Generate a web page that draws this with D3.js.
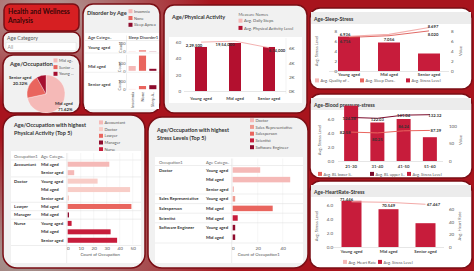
<!DOCTYPE html>
<html>
<head>
<meta charset="utf-8">
<script src="https://cdnjs.cloudflare.com/ajax/libs/d3/7.8.5/d3.min.js"></script>
<style>
body { margin: 0; background: #a3141c; }
svg { display: block; font-family: Lato, "Open Sans", sans-serif; }
</style>
</head>
<body>
<svg id="dash" width="474" height="271"></svg>
<script>
// ---- data ----
var ageGroups = ["Young aged", "Mid aged", "Senior aged"];

var pieNames = ["Mid aged", "Senior aged", "Young aged"];
var pieLegend = ["Mid ag..", "Senior ...", "Young ..."];
var piePct = [71.62, 20.32, 8.06];

var disorderCats = ["Insomnia", "None", "Sleep Apnea"];
var disorderTicks = ["Insomnia", "None", "Sleep A.."];
var disorderYoung = [3, 14, 2];
var disorderMid = [60, 190, 25];
var disorderSenior = [3, 40, 50];

var physActivity = [53.9, 58.8, 53.9];
var dailySteps = [6900, 7040, 6110];
var stepLabels = ["2,29,500", "19,54,000", "6,14,000"];

var physOcc = ["Accountant", "Accountant", "Doctor", "Doctor", "Doctor", "Lawyer", "Manager", "Nurse", "Nurse", "Nurse"];
var physAge = ["Mid aged", "Senior aged", "Young aged", "Mid aged", "Senior aged", "Mid aged", "Mid aged", "Young aged", "Mid aged", "Senior aged"];
var physCount = [32, 5, 23, 48, 1, 49, 1, 3, 33, 38];
var physOccList = ["Accountant", "Doctor", "Lawyer", "Manager", "Nurse"];

var stressOcc = ["Doctor", "Doctor", "Doctor", "Sales Representative", "Salesperson", "Scientist", "Software Engineer", "Software Engineer"];
var stressAge = ["Young aged", "Mid aged", "Senior aged", "Young aged", "Mid aged", "Mid aged", "Young aged", "Mid aged"];
var stressCount = [22, 46, 1, 2, 32, 4, 2, 2];
var stressOccList = ["Doctor", "Sales Representative", "Salesperson", "Scientist", "Software Engineer"];

var sleepStress = [6.9, 5.7, 3.5];
var sleepQuality = [6.936, 7.32, 8.697];
var sleepDuration = [6.716, 7.056, 8.020];

var bpGroups = ["21-30", "31-40", "41-50", "51-60"];
var bpStress = [7.9, 5.5, 6.0, 3.4];
var bpLower = [82.58, 80.25, 86.24, 87.39];
var bpUpper = [124.38, 122.03, 131.04, 132.32];

var hrStress = [6.6, 5.4, 3.4];
var heartRate = [71.446, 70.549, 67.467];

// ---- colours ----
var lightPink = "#f5b9b7", paler = "#f8cdc7", salmon = "#e9655e", rose = "#ee998f",
    crimson = "#c71c3b", darkRed = "#8e0b2d", barRed = "#b3102f";

var svg = d3.select("#dash");
var W = 474, H = 271;

// background: red with a greyish patch
var defs = svg.append("defs");
var g1 = defs.append("radialGradient").attr("id", "grayA").attr("cx", 0.05).attr("cy", 0.95).attr("r", 0.45);
g1.append("stop").attr("offset", 0).attr("stop-color", "#a49c96");
g1.append("stop").attr("offset", 1).attr("stop-color", "#a49c96").attr("stop-opacity", 0);
var g2 = defs.append("radialGradient").attr("id", "grayB").attr("cx", 0.1).attr("cy", 0.05).attr("r", 0.35);
g2.append("stop").attr("offset", 0).attr("stop-color", "#b0a4a0");
g2.append("stop").attr("offset", 1).attr("stop-color", "#b0a4a0").attr("stop-opacity", 0);
svg.append("rect").attr("width", W).attr("height", H).attr("fill", "#a8141d");
svg.append("rect").attr("width", W).attr("height", H).attr("fill", "url(#grayA)");
svg.append("rect").attr("width", W).attr("height", H).attr("fill", "url(#grayB)");

function panel(x, y, w, h, fill, r) {
  svg.append("rect").attr("x", x).attr("y", y).attr("width", w).attr("height", h)
    .attr("rx", r || 10).attr("fill", fill || "#f1f1f1")
    .attr("stroke", "#7a0e15").attr("stroke-width", 1.5);
}

function txt(x, y, s, size, opt) {
  opt = opt || {};
  var t = svg.append("text").attr("x", x).attr("y", y).text(s)
    .attr("font-size", size).attr("fill", opt.fill || "#444")
    .attr("font-weight", opt.weight || "normal")
    .attr("text-anchor", opt.anchor || "start");
  if (opt.rotate) t.attr("transform", "rotate(-90," + x + "," + y + ")");
  return t;
}

function legend(names, colors, xs, ys, size) {
  names.forEach(function(n, i) {
    svg.append("rect").attr("x", xs[i]).attr("y", ys[i] - 3.6).attr("width", 4).attr("height", 4).attr("fill", colors[i]);
    txt(xs[i] + 5.5, ys[i], n, size || 4.2, { fill: "#555" });
  });
}

function cleanAxis(g) {
  g.select(".domain").remove();
  g.selectAll("line").remove();
  g.selectAll("text").attr("font-size", 4.5).attr("fill", "#555").attr("font-family", "Lato, sans-serif");
}

// ---- title + filter ----
panel(4, 4, 75, 27, "#d61f22", 6);
txt(8, 14, "Health and Wellness", 6.8, { weight: "bold", fill: "#3a0708" });
txt(8, 23, "Analysis", 6.8, { weight: "bold", fill: "#3a0708" });

panel(3, 32, 77, 21, "#f3f3f3", 7);
txt(7, 40, "Age Category", 5.2, { fill: "#555" });
svg.append("rect").attr("x", 6).attr("y", 42.5).attr("width", 70).attr("height", 8).attr("fill", "#fff").attr("stroke", "#ddd").attr("stroke-width", 0.4);
txt(7.5, 49, "All", 5, { fill: "#999" });

// ---- pie ----
panel(3, 55, 77, 58);
txt(10, 66, "Age/Occupation", 5.8, { weight: "bold", fill: "#333" });
var pieColors = [lightPink, salmon, "#a50e2e"];
legend(pieLegend, pieColors, [53.5, 53.5, 53.5], [62, 68.7, 75.4], 4);
var pie = d3.pie().sort(null).value(function(d) { return d; });
var arc = d3.arc().innerRadius(0).outerRadius(19);
svg.append("g").attr("transform", "translate(46,94)")
  .selectAll("path").data(pie(piePct)).enter().append("path")
  .attr("d", arc).attr("fill", function(d, i) { return pieColors[i]; })
  .attr("stroke", "#fff").attr("stroke-width", 0.3);
txt(9, 79, pieNames[1], 4.3, { weight: "bold", fill: "#333" });
txt(13, 85, piePct[1].toFixed(2) + "%", 4.3, { weight: "bold", fill: "#333" });
txt(55, 105, pieNames[0], 4.3, { weight: "bold", fill: "#333" });
txt(58, 111, piePct[0].toFixed(2) + "%", 4.3, { weight: "bold", fill: "#333" });

// ---- disorder by age ----
panel(83, 4, 77, 109);
txt(87, 15, "Disorder by Age", 5.6, { weight: "bold", fill: "#333" });
legend(["Insomnia", "None", "Sleep Apnea"], [lightPink, salmon, darkRed], [128.5, 128.5, 128.5], [12.8, 19.6, 26.4], 4);
svg.append("rect").attr("x", 85).attr("y", 33).attr("width", 74).attr("height", 76).attr("fill", "#fff");
txt(88, 38.5, "Age Catego..", 4.2, { weight: "bold", fill: "#555" });
txt(128.5, 38.5, "Sleep Disorder1", 4.2, { weight: "bold", fill: "#555" });
svg.append("line").attr("x1", 85).attr("x2", 159).attr("y1", 40.5).attr("y2", 40.5).attr("stroke", "#ddd").attr("stroke-width", 0.5);

var dx = d3.scaleBand().domain(disorderCats).range([127, 158]);
var rows = [disorderYoung, disorderMid, disorderSenior];
var rowBase = [51.5, 70.8, 89.2];
var dColors = [lightPink, salmon, darkRed];
rows.forEach(function(vals, r) {
  var y = d3.scaleLinear().domain([0, 100]).range([rowBase[r], rowBase[r] - 8]);
  txt(88, rowBase[r] - 3, ageGroups[r], 4.3, { weight: "bold", fill: "#444" });
  txt(121.5, rowBase[r] - 4, "Count", 4, { rotate: true, anchor: "middle", fill: "#666" });
  svg.append("g").attr("transform", "translate(125.5,0)")
    .call(d3.axisLeft(y).tickValues([0, 100]).tickSize(0).tickPadding(0)).call(cleanAxis)
    .selectAll("text").attr("font-size", 4);
  svg.append("line").attr("x1", 126.5).attr("x2", 126.5).attr("y1", rowBase[r] - 16).attr("y2", rowBase[r] + 1).attr("stroke", "#ddd").attr("stroke-width", 0.5);
  svg.selectAll(null).data(vals).enter().append("rect")
    .attr("x", function(d, i) { return dx(disorderCats[i]) + 1.6; })
    .attr("width", dx.bandwidth() - 3.2)
    .attr("y", function(d) { return y(d); })
    .attr("height", function(d) { return y(0) - y(d); })
    .attr("fill", function(d, i) { return dColors[i]; });
  if (r < 2) svg.append("line").attr("x1", 85).attr("x2", 159).attr("y1", rowBase[r] + 1.5).attr("y2", rowBase[r] + 1.5).attr("stroke", "#e2e2e2").attr("stroke-width", 0.5);
});
disorderTicks.forEach(function(c, i) {
  txt(dx(disorderCats[i]) + dx.bandwidth() / 2 + 1.5, 92, c, 4, { rotate: true, anchor: "end", fill: "#555" });
});

// ---- combo bar + line helper ----
function combo(o) {
  var x = d3.scaleBand().domain(o.cats).range(o.xRange);
  var yL = d3.scaleLinear().domain(o.leftDomain).range(o.yRange);
  var yR = d3.scaleLinear().domain(o.rightDomain).range(o.yRangeR);
  var cx = function(i) { return x(o.cats[i]) + x.bandwidth() / 2; };

  svg.append("line").attr("x1", o.xRange[0]).attr("x2", o.xRange[1]).attr("y1", yL(0) + 0.5).attr("y2", yL(0) + 0.5)
    .attr("stroke", "#ccc").attr("stroke-width", 0.5);
  svg.selectAll(null).data(o.bars).enter().append("rect")
    .attr("x", function(d, i) { return cx(i) - o.barW / 2; })
    .attr("width", o.barW)
    .attr("y", function(d) { return yL(d); })
    .attr("height", function(d) { return yL(0) - yL(d); })
    .attr("fill", o.barColor);

  o.lines.forEach(function(l) {
    var line = d3.line().x(function(d, i) { return cx(i); }).y(function(d) { return yR(d); });
    svg.append("path").datum(l.values).attr("d", line).attr("fill", "none")
      .attr("stroke", l.color).attr("stroke-width", l.width || 1);
    l.values.forEach(function(v, i) {
      var lab = l.labels ? l.labels[i] : d3.format(l.fmt)(v);
      if (!lab || (l.skip && l.skip[i])) return;
      txt(cx(i) + l.off[i][0], yR(v) + l.off[i][1], lab, 4.2, { anchor: "middle", fill: "#333", weight: "bold" });
    });
  });

  svg.append("g").attr("transform", "translate(" + o.leftAxisX + ",0)")
    .call(d3.axisLeft(yL).tickValues(o.leftTicks).tickSize(0).tickPadding(0).tickFormat(o.leftFmt || null)).call(cleanAxis);
  svg.append("g").attr("transform", "translate(" + o.rightAxisX + ",0)")
    .call(d3.axisRight(yR).tickValues(o.rightTicks).tickSize(0).tickPadding(0).tickFormat(o.rightFmt || null)).call(cleanAxis);

  o.cats.forEach(function(c, i) {
    txt(cx(i), o.xLabelY, c, 4.3, { anchor: "middle", weight: "bold", fill: "#444" });
  });
  if (o.leftTitle) txt(o.leftTitleX, (o.yRange[0] + o.yRange[1]) / 2, o.leftTitle, 4.2, { rotate: true, anchor: "middle", fill: "#555" });
  if (o.rightTitle) txt(o.rightTitleX, (o.yRange[0] + o.yRange[1]) / 2, o.rightTitle, 4.2, { rotate: true, anchor: "middle", fill: "#555" });
}

// ---- age / physical activity ----
panel(164, 5, 143, 108);
txt(172, 19, "Age/Physical Activity", 5.6, { weight: "bold", fill: "#333" });
txt(238.5, 16, "Measure Names", 4.2, { fill: "#666" });
legend(["Avg. Daily Steps", "Avg. Physical Activity Level"], [lightPink, barRed], [238.5, 238.5], [22.3, 29.5], 4.2);
svg.append("rect").attr("x", 169).attr("y", 37).attr("width", 133).attr("height", 66).attr("fill", "#fff");
svg.append("line").attr("x1", 286).attr("x2", 286).attr("y1", 38).attr("y2", 94).attr("stroke", "#e4e4e4").attr("stroke-width", 0.5);
combo({
  cats: ageGroups, xRange: [184, 286], bars: physActivity, barW: 12, barColor: barRed,
  leftDomain: [0, 60], yRange: [91, 42], leftTicks: [0, 20, 40, 60], leftAxisX: 181,
  rightDomain: [0, 6000], yRangeR: [91, 48.5], rightTicks: [0, 2000, 4000, 6000], rightAxisX: 289,
  rightFmt: function(d) { return (d / 1000) + "K"; },
  lines: [{ values: dailySteps, color: "#f2a9a8", width: 0.9, labels: stepLabels,
            off: [[-7, 5], [-10, 5], [8, 4.5]] }],
  xLabelY: 99.5
});

// ---- top-5 table helper ----
function topTable(o) {
  var y = d3.scaleBand().domain(d3.range(o.occ.length)).range(o.yRange);
  var x = d3.scaleLinear().domain(o.xDomain).range(o.xRange);
  svg.append("rect").attr("x", o.box[0]).attr("y", o.box[1]).attr("width", o.box[2]).attr("height", o.box[3]).attr("fill", "#fff");
  txt(o.occX, o.headY, "Occupation1", 4.2, { fill: "#666" });
  txt(o.ageX, o.headY, "Age Catego..", 4.2, { fill: "#666" });
  svg.append("line").attr("x1", o.box[0]).attr("x2", o.box[0] + o.box[2]).attr("y1", o.headY + 2).attr("y2", o.headY + 2).attr("stroke", "#ddd").attr("stroke-width", 0.5);
  o.ticks.forEach(function(t) {
    svg.append("line").attr("x1", x(t)).attr("x2", x(t)).attr("y1", o.headY - 5).attr("y2", o.yRange[1])
      .attr("stroke", "#efefef").attr("stroke-width", 0.5);
  });
  svg.append("line").attr("x1", x(0) - 1).attr("x2", x(0) - 1).attr("y1", o.headY - 5).attr("y2", o.box[1] + o.box[3])
    .attr("stroke", "#ddd").attr("stroke-width", 0.5);
  o.occ.forEach(function(occ, i) {
    var yc = y(i) + y.bandwidth() / 2;
    if (i === 0 || o.occ[i - 1] !== occ) {
      txt(o.occX, yc + 1.5, occ, 4.3, { weight: "bold", fill: "#333" });
      if (i > 0) svg.append("line").attr("x1", o.box[0]).attr("x2", o.box[0] + o.box[2]).attr("y1", y(i)).attr("y2", y(i))
        .attr("stroke", "#ddd").attr("stroke-width", 0.5);
    }
    txt(o.ageX, yc + 1.5, o.age[i], 4.3, { weight: "bold", fill: "#333" });
  });
  svg.selectAll(null).data(o.count).enter().append("rect")
    .attr("x", x(0))
    .attr("y", function(d, i) { return y(i) + y.bandwidth() / 2 - o.barH / 2; })
    .attr("width", function(d) { return x(d) - x(0); })
    .attr("height", o.barH)
    .attr("fill", function(d, i) { return o.colors[o.occList.indexOf(o.occ[i])]; });
  svg.append("line").attr("x1", o.box[0]).attr("x2", o.box[0] + o.box[2]).attr("y1", o.yRange[1] + 1).attr("y2", o.yRange[1] + 1)
    .attr("stroke", "#ddd").attr("stroke-width", 0.5);
  svg.append("g").attr("transform", "translate(0," + o.axisY + ")")
    .call(d3.axisBottom(x).tickValues(o.ticks).tickSize(0).tickPadding(0)).call(cleanAxis);
  txt((o.xRange[0] + o.xRange[1]) / 2 + o.titleShift, o.axisY + 9, o.axisTitle, 4.3, { anchor: "middle", fill: "#555" });
}

// ---- top 5 physical activity ----
panel(3, 115, 142, 153, "#f1f1f1", 14);
txt(14, 127, "Age/Occupation with highest", 5.5, { weight: "bold", fill: "#333" });
txt(14, 135, "Physical Activity (Top 5)", 5.5, { weight: "bold", fill: "#333" });
var physColors = [lightPink, paler, salmon, darkRed, crimson];
legend(physOccList, physColors, [99, 99, 99, 99, 99], [124, 130.7, 137.4, 144.1, 150.8], 4.1);
topTable({
  occ: physOcc, age: physAge, count: physCount, occList: physOccList, colors: physColors,
  yRange: [160, 244.5], xDomain: [0, 50], xRange: [67.7, 132.7], ticks: [0, 10, 20, 30, 40, 50],
  box: [11, 151, 130, 112], occX: 14, ageX: 41, headY: 158, barH: 5,
  axisY: 247, axisTitle: "Count of Occupation", titleShift: 0
});

// ---- top 5 stress ----
panel(148, 117, 160, 151, "#f1f1f1", 14);
txt(157, 132, "Age/Occupation with highest", 5.5, { weight: "bold", fill: "#333" });
txt(157, 140, "Stress Levels (Top 5)", 5.5, { weight: "bold", fill: "#333" });
var stressColors = [lightPink, rose, salmon, crimson, darkRed];
legend(stressOccList, stressColors, [250, 250, 250, 250, 250], [121.8, 128.5, 135.3, 142, 148.8], 4.1);
topTable({
  occ: stressOcc, age: stressAge, count: stressCount, occList: stressOccList, colors: stressColors,
  yRange: [165.2, 242], xDomain: [0, 40], xRange: [232.7, 282.7], ticks: [0, 20, 40],
  box: [155, 157, 148, 106], occX: 159, ageX: 206, headY: 163.5, barH: 5.5,
  axisY: 247, axisTitle: "Count of Occupation1", titleShift: 1
});

// ---- right column ----
function rightPanel(y, h, title) {
  panel(310, y, 162, h, "#ffffff", 10);
  svg.append("rect").attr("x", 311).attr("y", y + 4).attr("width", 160).attr("height", 12).attr("fill", "#ececec");
  txt(314, y + 12.5, title, 5.2, { weight: "bold", fill: "#333" });
}

rightPanel(8, 81, "Age-Sleep-Stress");
combo({
  cats: ageGroups, xRange: [329, 449], bars: sleepStress, barW: 22, barColor: crimson,
  leftDomain: [0, 8], yRange: [71, 31], leftTicks: [0, 2, 4, 6, 8], leftAxisX: 337,
  rightDomain: [0, 8], yRangeR: [71, 31], rightTicks: [0, 2, 4, 6, 8], rightAxisX: 451,
  lines: [
    { values: sleepQuality, color: "#f3b0ae", width: 1.1, fmt: ".3f", skip: [false, true, false],
      off: [[-4, 0], [0, 0], [4, 0]] },
    { values: sleepDuration, color: "#d8443f", width: 0.8, fmt: ".3f",
      off: [[-4, 6], [0, 5.5], [4, 5]] }
  ],
  xLabelY: 76, leftTitle: "Avg. Stress Level", leftTitleX: 318, rightTitle: "Value", rightTitleX: 462
});
legend(["Avg. Quality of ..", "Avg. Sleep Dura..", "Avg. Stress Level"], [lightPink, salmon, crimson], [315, 360, 406], [82, 82, 82], 4);

rightPanel(94, 84, "Age-Blood pressure-stress");
combo({
  cats: bpGroups, xRange: [338, 443], bars: bpStress, barW: 14, barColor: crimson,
  leftDomain: [0, 6], yRange: [161, 119], leftTicks: [0, 2, 4, 6], leftAxisX: 334,
  rightDomain: [0, 100], yRangeR: [161, 126], rightTicks: [0, 50, 100], rightAxisX: 449,
  lines: [
    { values: bpLower, color: salmon, width: 1, fmt: ".2f",
      off: [[-6, 1.5], [0, 8], [0, -3], [6, 1.5]] },
    { values: bpUpper, color: "#7b0b2c", width: 1, fmt: ".2f",
      off: [[-2, 2.5], [0, 2.5], [0, 1.5], [5, 2]] }
  ],
  xLabelY: 168, leftTitle: "Avg. Stress Level", leftTitleX: 321, rightTitle: "Value", rightTitleX: 462
});
legend(["Avg. BL lower li..", "Avg. BL upper li..", "Avg. Stress Level"], [salmon, "#7b0b2c", crimson], [318, 370, 407], [175.5, 175.5, 175.5], 4);

rightPanel(181, 87, "Age-HeartRate-Stress");
combo({
  cats: ageGroups, xRange: [333, 444], bars: hrStress, barW: 20, barColor: crimson,
  leftDomain: [0, 6], yRange: [247, 205], leftTicks: [0, 2, 4, 6], leftAxisX: 333,
  rightDomain: [0, 60], yRangeR: [247, 209], rightTicks: [0, 20, 40, 60], rightAxisX: 449,
  lines: [{ values: heartRate, color: "#f3aaa8", width: 1, fmt: ".3f",
            off: [[-5, -1], [0, 5], [8, 2]] }],
  xLabelY: 253, leftTitle: "Avg. Stress Level", leftTitleX: 318, rightTitle: "Avg. Heart Rate", rightTitleX: 461
});
legend(["Avg. Heart Rate", "Avg. Stress Level"], [lightPink, crimson], [343, 378], [263.5, 263.5], 4);
</script>
</body>
</html>
